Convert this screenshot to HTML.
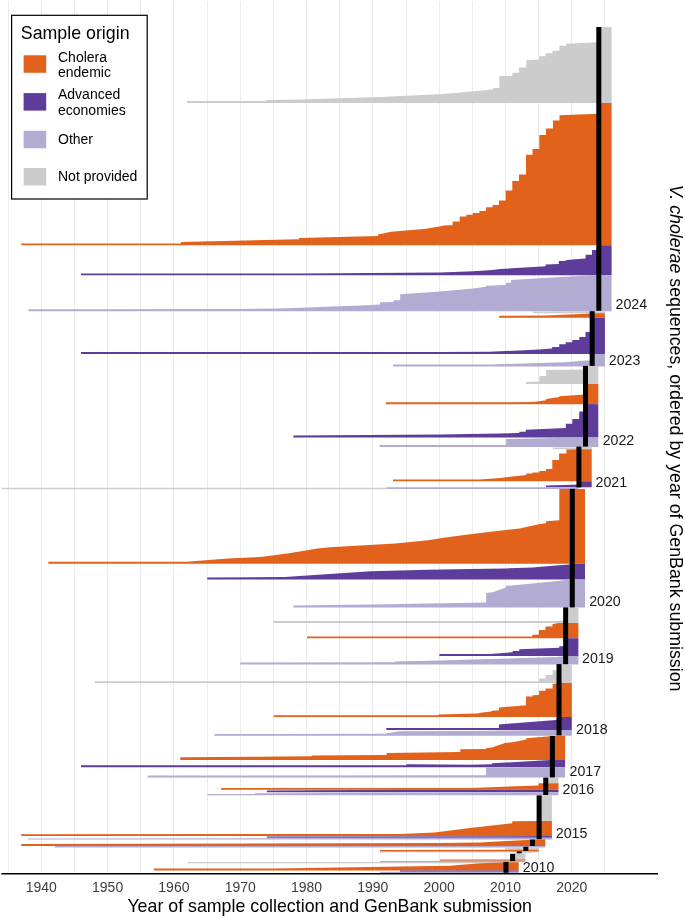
<!DOCTYPE html>
<html><head><meta charset="utf-8"><style>
html,body{margin:0;padding:0;background:#fff;}
svg{display:block;}
text{font-family:"Liberation Sans",Arial,sans-serif;}
.yl{font-size:14.2px;fill:#1a1a1a;}
.tk{font-size:14px;fill:#3d3d3d;}
.ti{font-size:17.8px;fill:#000;}
.lt{font-size:17.8px;fill:#000;}
.lx{font-size:14px;fill:#000;}
</style></head><body>
<svg width="685" height="917" viewBox="0 0 685 917">
<rect width="685" height="917" fill="#fff"/>
<line x1="8.50" y1="1.5" x2="8.50" y2="873" stroke="#ebebeb" stroke-width="1"/>
<line x1="41.50" y1="1.5" x2="41.50" y2="873" stroke="#ebebeb" stroke-width="1"/>
<line x1="74.50" y1="1.5" x2="74.50" y2="873" stroke="#ebebeb" stroke-width="1"/>
<line x1="107.50" y1="1.5" x2="107.50" y2="873" stroke="#ebebeb" stroke-width="1"/>
<line x1="140.50" y1="1.5" x2="140.50" y2="873" stroke="#ebebeb" stroke-width="1"/>
<line x1="173.50" y1="1.5" x2="173.50" y2="873" stroke="#ebebeb" stroke-width="1"/>
<line x1="207.50" y1="1.5" x2="207.50" y2="873" stroke="#ebebeb" stroke-width="1"/>
<line x1="240.50" y1="1.5" x2="240.50" y2="873" stroke="#ebebeb" stroke-width="1"/>
<line x1="273.50" y1="1.5" x2="273.50" y2="873" stroke="#ebebeb" stroke-width="1"/>
<line x1="306.50" y1="1.5" x2="306.50" y2="873" stroke="#ebebeb" stroke-width="1"/>
<line x1="339.50" y1="1.5" x2="339.50" y2="873" stroke="#ebebeb" stroke-width="1"/>
<line x1="372.50" y1="1.5" x2="372.50" y2="873" stroke="#ebebeb" stroke-width="1"/>
<line x1="406.50" y1="1.5" x2="406.50" y2="873" stroke="#ebebeb" stroke-width="1"/>
<line x1="439.50" y1="1.5" x2="439.50" y2="873" stroke="#ebebeb" stroke-width="1"/>
<line x1="472.50" y1="1.5" x2="472.50" y2="873" stroke="#ebebeb" stroke-width="1"/>
<line x1="505.50" y1="1.5" x2="505.50" y2="873" stroke="#ebebeb" stroke-width="1"/>
<line x1="538.50" y1="1.5" x2="538.50" y2="873" stroke="#ebebeb" stroke-width="1"/>
<line x1="571.50" y1="1.5" x2="571.50" y2="873" stroke="#ebebeb" stroke-width="1"/>
<line x1="604.50" y1="1.5" x2="604.50" y2="873" stroke="#ebebeb" stroke-width="1"/>
<polygon points="611.6,27.0 598.3,27.0 598.3,42.3 566.1,43.7 566.1,43.7 566.1,45.7 559.4,45.7 559.4,50.8 552.5,50.8 552.5,53.3 545.6,53.3 545.6,56.2 539.1,56.2 539.1,59.5 526.3,60.3 526.3,60.3 526.3,67.4 519.0,67.4 519.0,72.7 512.5,72.7 512.5,75.9 499.3,75.9 499.3,88.1 492.8,88.3 492.8,89.6 466.0,92.0 439.6,94.3 380.0,97.0 300.0,99.5 266.0,100.0 266.0,101.1 187.0,101.1 187.0,103.0 611.6,103.0" fill="#cccccc"/>
<polygon points="611.6,103.0 598.3,103.0 598.3,113.7 559.5,115.2 559.5,115.2 559.5,120.5 553.0,120.5 553.0,128.4 546.0,128.4 546.0,135.0 539.3,135.0 539.3,149.0 532.5,149.0 532.5,154.7 526.0,154.7 526.0,174.4 519.0,174.4 519.0,181.0 512.3,181.0 512.3,190.6 505.7,190.6 505.7,200.4 499.0,200.4 499.0,205.0 492.5,205.0 492.5,207.2 486.0,207.2 486.0,211.0 479.4,211.0 479.4,213.0 472.8,213.0 472.8,214.8 466.3,214.8 466.3,216.4 459.7,216.4 459.7,221.4 452.6,221.4 452.6,225.3 445.8,225.3 439.2,226.5 426.0,228.7 391.0,231.8 378.0,234.4 378.0,236.0 299.0,238.0 299.0,239.2 181.0,241.9 181.0,243.4 21.2,243.4 21.2,245.3 611.6,245.3" fill="#e2621c"/>
<polygon points="611.6,245.3 598.3,245.3 598.3,250.0 592.0,250.0 592.0,254.8 585.6,254.8 585.6,258.4 572.2,259.5 565.5,260.3 565.5,261.1 558.8,261.1 558.8,264.0 545.7,264.5 545.7,266.2 500.0,269.0 492.4,270.1 473.2,271.2 440.0,272.4 300.0,273.4 81.0,273.4 81.0,275.3 611.6,275.3" fill="#5e3c99"/>
<polygon points="611.6,275.3 592.8,275.3 552.4,277.5 539.6,278.3 511.0,280.0 511.0,282.8 506.0,282.8 506.0,285.1 486.0,285.8 486.0,286.8 473.2,288.5 440.0,291.6 400.2,294.2 400.2,300.2 393.5,300.2 393.5,301.9 380.0,302.2 380.0,304.6 366.7,305.3 280.0,308.4 241.0,309.0 103.0,309.3 28.5,309.3 28.5,311.2 611.6,311.2" fill="#b2abd2"/>
<polygon points="604.9,311.2 575.0,311.2 532.9,311.4 532.9,313.3 604.9,313.3" fill="#cccccc"/>
<polygon points="604.9,313.3 591.7,313.3 585.5,313.8 546.0,315.4 499.1,315.8 499.1,317.7 604.9,317.7" fill="#e2621c"/>
<polygon points="604.9,317.7 591.7,317.7 591.7,332.0 585.5,332.0 585.5,336.9 579.3,336.9 579.3,340.1 572.3,340.1 572.3,342.2 565.7,342.2 565.7,344.3 559.2,344.3 559.2,346.9 552.2,346.9 552.2,348.6 539.0,349.5 490.0,351.8 440.0,352.0 81.0,352.0 81.0,353.9 604.9,353.9" fill="#5e3c99"/>
<polygon points="604.9,353.9 591.7,353.9 591.7,360.6 585.5,360.6 565.3,362.3 490.0,364.4 393.0,364.5 393.0,366.4 604.9,366.4" fill="#b2abd2"/>
<polygon points="598.3,366.4 585.0,366.4 585.0,369.4 546.1,369.9 546.1,376.0 539.4,376.0 539.4,381.6 525.9,382.0 525.9,383.9 598.3,383.9" fill="#cccccc"/>
<polygon points="598.3,383.9 585.0,383.9 585.0,394.4 559.2,396.2 559.2,397.0 546.1,399.1 546.1,400.2 532.9,402.0 490.0,402.3 386.0,402.3 386.0,404.2 598.3,404.2" fill="#e2621c"/>
<polygon points="598.3,404.2 585.0,404.0 585.0,411.6 579.2,411.6 579.2,419.0 572.3,419.0 572.3,423.8 565.8,423.8 565.8,428.1 525.7,429.7 525.7,431.8 519.3,431.8 519.3,432.9 500.0,433.5 440.0,434.4 293.3,435.5 293.3,437.5 598.3,437.5" fill="#5e3c99"/>
<polygon points="598.3,437.5 585.0,437.5 506.1,439.0 506.1,445.0 379.6,445.0 379.6,446.9 598.3,446.9" fill="#b2abd2"/>
<polygon points="591.7,446.6 578.0,446.6 578.0,447.4 552.6,447.4 552.6,449.3 591.7,449.3" fill="#cccccc"/>
<polygon points="591.7,449.3 578.4,449.3 566.4,449.5 566.4,453.4 559.1,453.4 559.1,460.0 552.3,460.0 552.3,468.9 546.0,468.9 546.0,471.0 539.4,471.0 539.4,472.4 532.4,472.4 532.4,473.6 526.3,473.6 526.3,475.0 500.0,478.0 480.0,479.4 393.0,479.4 393.0,481.3 591.7,481.3" fill="#e2621c"/>
<polygon points="591.7,481.3 581.0,481.3 581.0,484.5 546.0,485.4 546.0,487.3 591.7,487.3" fill="#5e3c99"/>
<polygon points="578.4,487.3 386.3,487.3 386.3,488.9 578.4,488.9" fill="#b2abd2"/>
<polygon points="386.3,487.8 2.0,487.8 2.0,489.2 386.3,489.2" fill="#cccccc"/>
<polygon points="585.0,488.9 559.3,488.9 559.3,520.3 546.0,521.3 546.0,523.3 538.8,524.2 519.6,528.4 486.4,532.3 466.0,534.8 445.5,537.4 428.0,540.2 395.3,543.5 330.0,547.2 317.6,548.4 289.0,553.3 260.4,557.0 227.7,558.6 186.8,561.8 48.3,561.8 48.3,563.7 585.0,563.7" fill="#e2621c"/>
<polygon points="585.0,563.7 571.8,563.7 568.7,564.6 549.7,566.0 532.6,567.5 506.0,568.4 470.0,569.0 428.0,569.7 370.8,571.3 325.8,574.2 285.0,577.0 207.2,577.5 207.2,579.4 585.0,579.4" fill="#5e3c99"/>
<polygon points="585.0,579.4 570.0,579.4 555.4,581.2 532.6,583.6 511.8,585.5 506.0,585.8 506.0,587.4 492.8,592.2 486.1,593.1 486.1,602.6 428.0,603.5 390.5,604.3 293.4,605.5 293.4,607.4 585.0,607.4" fill="#b2abd2"/>
<polygon points="578.4,607.4 565.2,607.4 565.2,620.4 559.3,620.4 559.3,621.0 273.4,621.0 273.4,622.9 578.4,622.9" fill="#cccccc"/>
<polygon points="578.4,622.9 559.0,622.9 552.5,624.1 552.5,626.6 545.5,626.6 545.5,630.0 538.9,630.0 538.9,634.7 532.3,634.7 532.3,636.4 307.0,636.4 307.0,638.3 578.4,638.3" fill="#e2621c"/>
<polygon points="578.4,638.3 565.2,638.3 565.2,646.3 559.3,646.3 559.3,647.8 519.2,649.3 519.2,651.0 512.6,651.0 512.6,652.2 490.0,653.9 439.4,654.1 439.4,656.0 578.4,656.0" fill="#5e3c99"/>
<polygon points="578.4,656.0 565.2,656.0 556.6,657.0 490.0,659.0 440.0,660.5 395.0,661.6 395.0,662.2 240.3,662.6 240.3,664.6 578.4,664.6" fill="#b2abd2"/>
<polygon points="571.8,664.6 558.6,664.6 558.6,670.2 552.7,670.2 552.7,675.1 545.8,675.1 545.8,678.4 539.2,678.4 539.2,681.2 94.7,681.2 94.7,683.1 571.8,683.1" fill="#cccccc"/>
<polygon points="571.8,683.1 558.6,683.1 552.6,684.1 552.6,688.5 545.7,688.5 545.7,690.7 539.1,690.7 539.1,695.0 532.6,695.2 532.6,696.5 526.0,696.5 526.0,705.3 499.0,707.4 499.0,710.4 493.1,710.4 491.0,711.5 482.5,712.5 477.0,713.6 438.7,714.4 438.7,715.2 273.7,715.2 273.7,717.1 571.8,717.1" fill="#e2621c"/>
<polygon points="571.8,717.1 558.6,717.1 555.9,720.0 498.9,724.5 498.9,728.0 386.3,728.1 386.3,730.0 571.8,730.0" fill="#5e3c99"/>
<polygon points="571.8,730.0 558.0,730.0 470.0,731.0 399.0,731.3 384.6,733.8 214.4,733.9 214.4,735.8 571.8,735.8" fill="#b2abd2"/>
<polygon points="565.1,735.8 550.0,736.3 526.2,738.2 526.2,739.5 513.8,742.0 505.0,743.0 491.9,747.5 486.0,748.2 486.0,749.0 460.3,749.3 460.3,752.0 386.7,753.1 386.7,755.0 311.8,755.5 311.8,756.3 180.3,757.3 180.3,760.1 565.1,760.1" fill="#e2621c"/>
<polygon points="565.1,760.1 550.0,760.1 491.9,763.3 491.9,764.3 470.0,764.7 406.4,764.3 406.4,765.2 81.0,765.3 81.0,767.2 565.1,767.2" fill="#5e3c99"/>
<polygon points="565.1,767.2 552.0,767.2 486.1,767.5 486.1,775.3 147.6,775.5 147.6,777.4 565.1,777.4" fill="#b2abd2"/>
<polygon points="558.5,777.6 545.3,777.6 545.3,783.3 558.5,783.3" fill="#cccccc"/>
<polygon points="558.5,783.3 538.6,783.3 538.6,785.5 470.0,787.9 420.0,787.9 221.0,787.9 221.0,789.8 558.5,789.8" fill="#e2621c"/>
<polygon points="558.5,789.8 400.0,789.8 266.8,790.4 266.8,792.3 558.5,792.3" fill="#5e3c99"/>
<polygon points="558.5,792.3 207.5,793.3 207.5,795.2 558.5,795.2" fill="#b2abd2"/>
<polygon points="551.9,795.4 539.0,795.4 539.0,820.9 551.9,820.9" fill="#cccccc"/>
<polygon points="551.9,820.9 537.0,820.9 512.3,821.2 512.3,823.2 470.0,828.1 434.6,832.6 400.0,834.0 21.2,834.2 21.2,836.1 551.9,836.1" fill="#e2621c"/>
<polygon points="551.9,836.1 266.8,836.6 266.8,837.8 551.9,837.8" fill="#5e3c99"/>
<polygon points="551.9,837.8 27.9,838.4 27.9,839.4 551.9,839.4" fill="#b2abd2"/>
<polygon points="545.3,839.3 535.0,839.5 480.0,842.4 440.0,843.0 21.2,844.0 21.2,845.9 545.3,845.9" fill="#e2621c"/>
<polygon points="545.3,845.9 54.7,846.0 54.7,847.4 545.3,847.4" fill="#b2abd2"/>
<polygon points="538.6,847.4 527.0,847.4 505.1,847.9 505.1,849.8 538.6,849.8" fill="#cccccc"/>
<polygon points="538.6,849.8 380.0,849.9 380.0,851.0 538.6,851.0" fill="#e2621c"/>
<polygon points="538.6,851.0 380.0,851.1 380.0,852.3 538.6,852.3" fill="#b2abd2"/>
<polygon points="532.0,851.4 521.8,851.4 521.8,853.2 532.0,853.2" fill="#cccccc"/>
<polygon points="525.4,853.3 515.0,853.3 515.0,859.5 525.4,859.5" fill="#cccccc"/>
<polygon points="525.4,859.4 440.0,859.5 440.0,860.8 525.4,860.8" fill="#e2621c"/>
<polygon points="525.4,860.8 380.0,860.9 380.0,862.0 525.4,862.0" fill="#b2abd2"/>
<polygon points="505.0,862.0 187.4,862.1 187.4,863.2 505.0,863.2" fill="#cccccc"/>
<polygon points="518.7,862.3 508.6,862.3 480.0,863.3 450.0,865.8 274.8,868.5 153.8,868.6 153.8,870.5 518.7,870.5" fill="#e2621c"/>
<polygon points="518.7,870.5 400.0,870.6 400.0,871.7 518.7,871.7" fill="#5e3c99"/>
<polygon points="518.7,871.7 380.0,871.8 380.0,873.0 518.7,873.0" fill="#b2abd2"/>
<rect x="596.30" y="27" width="5" height="283.80" fill="#000"/>
<rect x="589.67" y="311.2" width="5" height="54.70" fill="#000"/>
<rect x="583.04" y="365.9" width="5" height="80.70" fill="#000"/>
<rect x="576.41" y="446.6" width="5" height="40.80" fill="#000"/>
<rect x="569.78" y="488.9" width="5" height="118.50" fill="#000"/>
<rect x="563.15" y="607.4" width="5" height="56.80" fill="#000"/>
<rect x="556.52" y="664.1" width="5" height="71.30" fill="#000"/>
<rect x="549.89" y="736" width="5" height="41.40" fill="#000"/>
<rect x="543.26" y="777.6" width="5" height="17.40" fill="#000"/>
<rect x="536.62" y="795.4" width="5" height="43.70" fill="#000"/>
<rect x="529.99" y="839.6" width="5" height="6.40" fill="#000"/>
<rect x="523.36" y="846.7" width="5" height="4.30" fill="#000"/>
<rect x="516.73" y="851.4" width="5" height="1.90" fill="#000"/>
<rect x="510.10" y="853.8" width="5" height="7.30" fill="#000"/>
<rect x="503.47" y="861.9" width="5" height="10.90" fill="#000"/>
<text x="615.5" y="309" class="yl">2024</text>
<text x="608.8" y="364.5" class="yl">2023</text>
<text x="602.7" y="444.8" class="yl">2022</text>
<text x="595.6" y="487" class="yl">2021</text>
<text x="589.2" y="606" class="yl">2020</text>
<text x="582" y="662.8" class="yl">2019</text>
<text x="576" y="733.5" class="yl">2018</text>
<text x="569.5" y="776.3" class="yl">2017</text>
<text x="562.5" y="793.8" class="yl">2016</text>
<text x="555.8" y="838" class="yl">2015</text>
<text x="522.8" y="871.7" class="yl">2010</text>
<line x1="1.3" y1="873.8" x2="658" y2="873.8" stroke="#000" stroke-width="1.4"/>
<text x="41.30" y="891.9" class="tk" text-anchor="middle">1940</text>
<text x="107.61" y="891.9" class="tk" text-anchor="middle">1950</text>
<text x="173.92" y="891.9" class="tk" text-anchor="middle">1960</text>
<text x="240.23" y="891.9" class="tk" text-anchor="middle">1970</text>
<text x="306.54" y="891.9" class="tk" text-anchor="middle">1980</text>
<text x="372.85" y="891.9" class="tk" text-anchor="middle">1990</text>
<text x="439.16" y="891.9" class="tk" text-anchor="middle">2000</text>
<text x="505.47" y="891.9" class="tk" text-anchor="middle">2010</text>
<text x="571.78" y="891.9" class="tk" text-anchor="middle">2020</text>
<text x="329.7" y="911.5" class="ti" text-anchor="middle">Year of sample collection and GenBank submission</text>
<text transform="translate(669.5,438.1) rotate(90)" class="ti" text-anchor="middle"><tspan font-style="italic">V. cholerae</tspan> sequences, ordered by year of GenBank submission</text>
<rect x="11.6" y="15.3" width="135.6" height="183.7" fill="#fff" stroke="#000" stroke-width="1.2"/>
<text x="20.8" y="38.9" class="lt">Sample origin</text>
<rect x="23.6" y="55.3" width="22.6" height="17.5" fill="#e2621c"/>
<rect x="23.6" y="93.1" width="22.6" height="17.5" fill="#5e3c99"/>
<rect x="23.6" y="130.8" width="22.6" height="17.5" fill="#b2abd2"/>
<rect x="23.6" y="168" width="22.6" height="17.5" fill="#cccccc"/>
<text x="58" y="61.9" class="lx">Cholera</text>
<text x="58" y="76.6" class="lx">endemic</text>
<text x="58" y="99.3" class="lx">Advanced</text>
<text x="58" y="114.8" class="lx">economies</text>
<text x="58" y="143.9" class="lx">Other</text>
<text x="58" y="181.2" class="lx">Not provided</text>
</svg></body></html>
